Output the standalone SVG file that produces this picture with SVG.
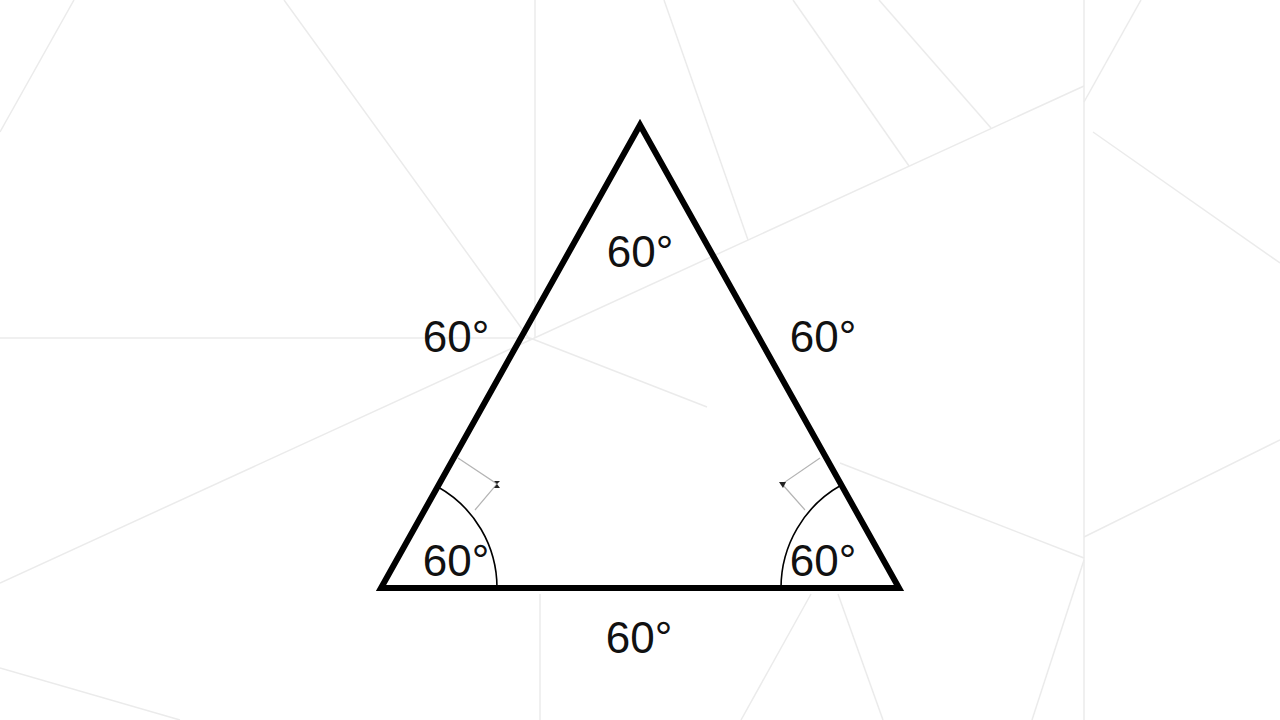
<svg xmlns="http://www.w3.org/2000/svg" width="1280" height="720" viewBox="0 0 1280 720">
<style>
.bg{stroke:#ebebeb;stroke-width:1.5;fill:none}
.tri{stroke:#000;stroke-width:6;fill:none;stroke-linejoin:miter}
.arc{stroke:#000;stroke-width:1.6;fill:none}
.ind{stroke:#b4b4b4;stroke-width:1.2;fill:none}
.lbl{font-family:"Liberation Sans",Arial,sans-serif;font-size:44px;fill:#111;text-anchor:middle}
</style>
<rect width="1280" height="720" fill="#fff"/>
<g id="background">
<line class="bg" x1="74" y1="0" x2="0" y2="132"/>
<line class="bg" x1="284" y1="0" x2="530" y2="340"/>
<line class="bg" x1="535" y1="0" x2="535" y2="338"/>
<line class="bg" x1="0" y1="338" x2="530" y2="338"/>
<line class="bg" x1="540" y1="594" x2="540" y2="720"/>
<line class="bg" x1="0" y1="583" x2="1084" y2="86"/>
<line class="bg" x1="664" y1="0" x2="748" y2="240"/>
<line class="bg" x1="793" y1="0" x2="909" y2="166"/>
<line class="bg" x1="879" y1="0" x2="991" y2="128"/>
<line class="bg" x1="1084" y1="0" x2="1084" y2="720"/>
<line class="bg" x1="1141" y1="0" x2="1084" y2="102"/>
<line class="bg" x1="1093" y1="132" x2="1280" y2="263"/>
<line class="bg" x1="1280" y1="440" x2="1084" y2="537"/>
<line class="bg" x1="530" y1="338" x2="707" y2="407"/>
<line class="bg" x1="840" y1="463" x2="1084" y2="558"/>
<line class="bg" x1="1084" y1="560" x2="1032" y2="720"/>
<line class="bg" x1="811" y1="594" x2="741" y2="720"/>
<line class="bg" x1="838" y1="594" x2="883" y2="720"/>
<line class="bg" x1="0" y1="668" x2="180" y2="720"/>
</g>
<g id="triangle">
<polygon class="tri" points="640,125 381,588 899,588"/>
</g>
<g id="angle-left">
<path class="arc" d="M497,588 A116,116 0 0 0 437.6,486.7"/>
<polyline class="ind" points="458,458 497,484 475,510"/>
<path d="M494,481 L500,481 L497,484 L500,488 L494,488 L497,484 Z" fill="#222"/>
</g>
<g id="angle-right">
<path class="arc" d="M781,588 A118,118 0 0 1 841.4,485"/>
<polyline class="ind" points="820,458 782,484 805,510"/>
<path d="M779,482 L786,482 L783,488 Z" fill="#222"/>
</g>
<g id="labels">
<text class="lbl" x="640" y="267">60°</text>
<text class="lbl" x="456" y="352">60°</text>
<text class="lbl" x="823" y="352">60°</text>
<text class="lbl" x="456" y="576">60°</text>
<text class="lbl" x="823" y="576">60°</text>
<text class="lbl" x="639" y="653">60°</text>
</g>
</svg>
